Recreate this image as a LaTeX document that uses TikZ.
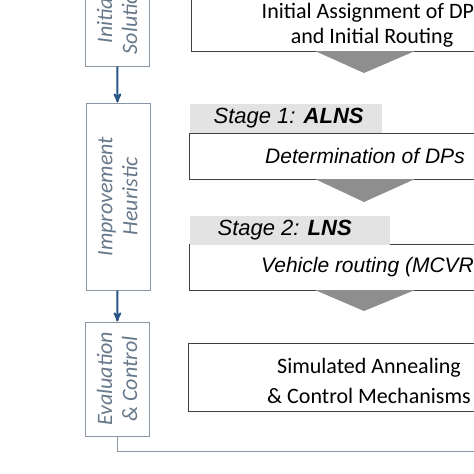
\documentclass[tikz,border=0pt]{standalone}
\usepackage{fontspec}
\setmainfont{Liberation Sans}
\newfontfamily\calfont{Carlito}
\usetikzlibrary{arrows}
\usetikzlibrary{positioning}
\definecolor{flowblue}{HTML}{2A5685}
\definecolor{phaseline}{HTML}{8A96A3}
\definecolor{phasetext}{HTML}{66788A}
\definecolor{bandgray}{HTML}{E3E3E3}
\definecolor{chevgray}{HTML}{8E8E8E}

\begin{document}
\begin{tikzpicture}[x=1pt, y=-1pt, >=stealth', semithick]
            \tikzstyle{phase}=[draw=phaseline, line width=1pt, rotate=90, align=center, inner sep=0pt, minimum height=64pt, text=phasetext, font=\calfont\itshape\fontsize{22}{25}\selectfont]
            \tikzstyle{task}=[draw=black!75, line width=0.9pt, inner sep=0pt]
            \tikzstyle{band}=[fill=bandgray, anchor=north west, inner sep=0pt, minimum width=192pt, minimum height=29pt]
            \tikzstyle{chevron}=[fill=chevgray]
            \useasboundingbox (0,0) rectangle (474,474);

            % phases on the left
            \node[phase, minimum width=96pt] (init) at (117,18) {Initial\\Solution};
            \node[phase, minimum width=187pt] (impr) at (118,196.5) {Improvement\\Heuristic};
            \node[phase, minimum width=114pt] (eval) at (117,379) {Evaluation\\\& Control};
            \coordinate (back) at (480,451);

            % tasks on the right
            \node[task, minimum width=362pt, minimum height=100pt] (assign) at (372,1) {};
            \node[align=center, font=\calfont\fontsize{22}{25}\selectfont] (assigntxt) at (372,25) {Initial Assignment of DPs\\and Initial Routing};

            \node[task, minimum width=352pt, minimum height=46pt, font=\itshape\fontsize{21}{25}\selectfont] (dps) at (365,156) {Determination of DPs};
            \node[band] (stage1) at (190,104) {};
            \node[anchor=west, font=\itshape\fontsize{22}{25}\selectfont] (stage1txt) at (210,118) {Stage 1: \textbf{ALNS}};

            \node[task, minimum width=378pt, minimum height=46pt, font=\itshape\fontsize{21}{25}\selectfont] (routing) at (378,267) {Vehicle routing (MCVRP)};
            \node[band, minimum width=200pt] (stage2) at (190,216) {};
            \node[anchor=west, font=\itshape\fontsize{22}{25}\selectfont] (stage2txt) at (214,230) {Stage 2: \textbf{LNS}};

            \node[task, minimum width=362pt, minimum height=68pt] (anneal) at (369,377) {};
            \node[align=center, font=\calfont\fontsize{22}{30}\selectfont] (annealtxt) at (369,381) {Simulated Annealing\\\& Control Mechanisms};

            % grey arrows between the tasks
            \fill[chevron] (315,51) -- (415,51) -- (364,73) -- cycle;
            \fill[chevron] (315,179) -- (415,179) -- (364,202) -- cycle;
            \fill[chevron] (315,290) -- (415,290) -- (364,311) -- cycle;

            \path[->, draw=flowblue, line width=2pt]
                (init) edge (impr)
                (impr) edge (eval);
            \draw[phaseline, line width=1pt] (eval.west) |- (back);
        \end{tikzpicture}
\end{document}
